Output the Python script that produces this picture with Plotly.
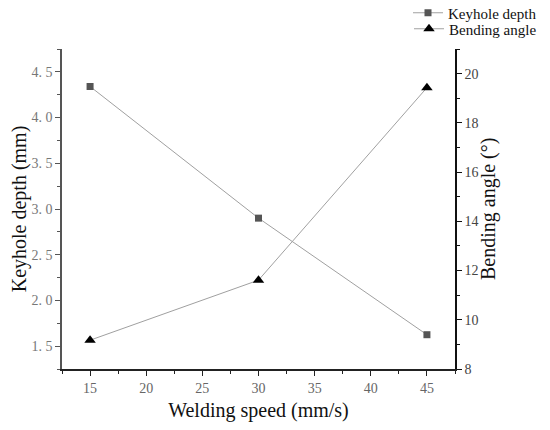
import plotly.graph_objects as go

speed = [15, 30, 45]
keyhole_depth = [4.34, 2.90, 1.625]
bending_angle = [9.17, 11.61, 19.43]

x_ticks = [15, 20, 25, 30, 35, 40, 45]
left_ticks = [1.5, 2.0, 2.5, 3.0, 3.5, 4.0, 4.5]
left_labels = ["1. 5", "2. 0", "2. 5", "3. 0", "3. 5", "4. 0", "4. 5"]
right_ticks = [8, 10, 12, 14, 16, 18, 20]

serif = "Liberation Serif, Times New Roman, serif"
W, H = 534, 414

fig = go.Figure()
fig.add_trace(go.Scatter(
    x=speed, y=keyhole_depth, name="Keyhole depth", mode="lines+markers",
    line=dict(color="#a0a0a0", width=1),
    marker=dict(symbol="square", size=7, color="#555555"),
    legend="legend",
))
fig.add_trace(go.Scatter(
    x=speed, y=bending_angle, name="Bending angle", mode="lines+markers",
    line=dict(color="#a0a0a0", width=1),
    marker=dict(symbol="triangle-up", size=10, color="#000000"),
    yaxis="y2", legend="legend2",
))

leg_common = dict(xref="container", yref="container", xanchor="right", yanchor="middle",
                  font=dict(family=serif, size=15, color="#111111"),
                  bgcolor="rgba(0,0,0,0)", itemwidth=30, borderwidth=0)

fig.update_layout(
    width=W, height=H,
    margin=dict(l=54, r=87, t=41, b=53, autoexpand=False),
    paper_bgcolor="white", plot_bgcolor="white",
    font=dict(family=serif, color="#000000"),
    showlegend=True,
    legend=dict(x=1.0, y=1 - 5 / H, **leg_common),
    legend2=dict(x=1.0, y=1 - 21 / H, **leg_common),
    xaxis=dict(
        range=[12.5, 47.5], tickvals=x_ticks, showgrid=False, zeroline=False,
        showline=True, linecolor="#222222", linewidth=1.5,
        ticks="outside", ticklen=5, tickcolor="#222222",
        minor=dict(ticks="outside", ticklen=3, dtick=2.5, tick0=12.5, tickcolor="#222222"),
        tickfont=dict(family=serif, size=14, color="#666666"),
        title=dict(text="Welding speed (mm/s)", font=dict(family=serif, size=20, color="#111111"), standoff=15),
    ),
    yaxis=dict(
        range=[1.25, 4.75], tickvals=left_ticks, ticktext=left_labels, showgrid=False, zeroline=False,
        showline=True, linecolor="#555555", linewidth=1.5,
        ticks="outside", ticklen=5, tickcolor="#555555",
        minor=dict(ticks="outside", ticklen=3, dtick=0.25, tick0=1.25, tickcolor="#555555"),
        tickfont=dict(family=serif, size=14, color="#777777"),
        title=dict(text="Keyhole depth (mm)", font=dict(family=serif, size=20, color="#111111"), standoff=8),
    ),
    yaxis2=dict(
        range=[8, 21], tickvals=right_ticks, overlaying="y", side="right", showgrid=False, zeroline=False,
        showline=True, linecolor="#111111", linewidth=1.5,
        ticks="outside", ticklen=5, tickcolor="#111111",
        minor=dict(ticks="outside", ticklen=3, dtick=1, tick0=8, tickcolor="#111111"),
        tickfont=dict(family=serif, size=14, color="#444444"),
    ),
    annotations=[dict(
        text="Bending angle (°)", xref="paper", yref="paper", x=1, y=0.5,
        xshift=33, textangle=-90, showarrow=False, xanchor="center", yanchor="middle",
        font=dict(family=serif, size=20, color="#111111"),
    )],
)

fig.write_html("out.html")
